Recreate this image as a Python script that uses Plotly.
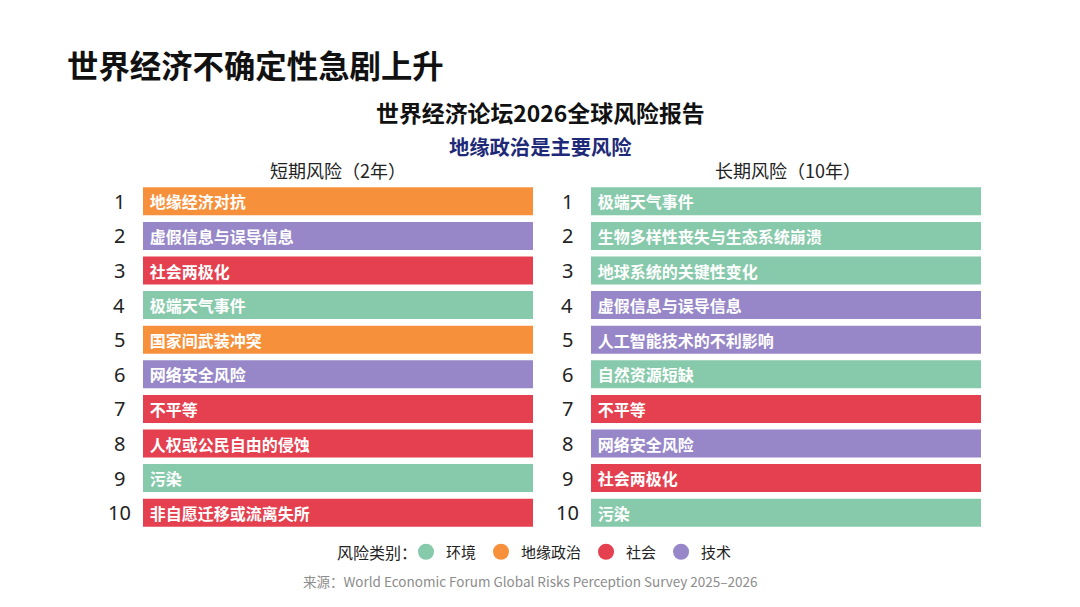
import plotly.graph_objects as go
import plotly.subplots

# ranks and risks
ranks = [1, 2, 3, 4, 5, 6, 7, 8, 9, 10]
short_risks = ["地缘经济对抗", "虚假信息与误导信息", "社会两极化", "极端天气事件", "国家间武装冲突",
               "网络安全风险", "不平等", "人权或公民自由的侵蚀", "污染", "非自愿迁移或流离失所"]
short_cats = ["地缘政治", "技术", "社会", "环境", "地缘政治",
              "技术", "社会", "社会", "环境", "社会"]
long_risks = ["极端天气事件", "生物多样性丧失与生态系统崩溃", "地球系统的关键性变化", "虚假信息与误导信息",
              "人工智能技术的不利影响", "自然资源短缺", "不平等", "网络安全风险", "社会两极化", "污染"]
long_cats = ["环境", "环境", "环境", "技术",
             "技术", "环境", "社会", "技术", "社会", "环境"]
categories = ["环境", "地缘政治", "社会", "技术"]
cat_colors = {"环境": "#87C9AB", "地缘政治": "#F7903A", "社会": "#E5404F", "技术": "#9787C8"}

CJK = "Noto Sans CJK SC"

fig = plotly.subplots.make_subplots(rows=1, cols=2)

for col, (risks, cats) in enumerate([(short_risks, short_cats), (long_risks, long_cats)], start=1):
    fig.add_trace(go.Bar(
        x=[1] * len(ranks),
        y=ranks,
        orientation="h",
        marker=dict(color=[cat_colors[c] for c in cats], line=dict(width=0)),
        text=risks,
        texttemplate="\u00a0%{text}",
        textposition="inside",
        insidetextanchor="start",
        constraintext="none",
        textfont=dict(family=CJK, size=16, color="white", weight="bold"),
        hoverinfo="skip",
        showlegend=False),
        row=1, col=col)
    # rank numbers
    sfx = "" if col == 1 else str(col)
    for r in ranks:
        fig.add_annotation(
            x=0, y=r, xref="x%s domain" % sfx, yref="y%s" % sfx,
            text=str(r), showarrow=False, xanchor="center", xshift=-24,
            font=dict(family="Noto Sans, " + CJK, size=20, color="#222222"))

# legend entries
for c in categories:
    fig.add_trace(go.Scatter(
        x=[None], y=[None], mode="markers", name=c,
        marker=dict(color=cat_colors[c], size=19)),
        row=1, col=1)

fig.update_layout(
    width=1080, height=607,
    margin=dict(l=0, r=0, t=0, b=0),
    paper_bgcolor="white", plot_bgcolor="white",
    bargap=0.19,
    font=dict(family=CJK),
    showlegend=True,
    legend=dict(
        orientation="h", x=406 / 1080, xanchor="left", y=1 - 552 / 607, yanchor="middle",
        font=dict(size=15, color="#222222"),
        itemclick=False, itemdoubleclick=False),
    xaxis=dict(domain=[143 / 1080, 533 / 1080]),
    xaxis2=dict(domain=[591 / 1080, 981 / 1080]),
)
fig.update_xaxes(range=[0, 1], visible=False, fixedrange=True)
fig.update_yaxes(range=[10.5, 0.5], domain=[1 - 530 / 607, 1 - 184 / 607],
                 showticklabels=False, showgrid=False, zeroline=False, fixedrange=True)

# titles
fig.add_annotation(x=65 / 1080, y=1 - 65 / 607, xref="paper", yref="paper", xanchor="left", yanchor="middle",
                   text="<b>世界经济不确定性急剧上升</b>", showarrow=False,
                   font=dict(family=CJK, size=31.4, color="#111111"))
fig.add_annotation(x=0.5, y=1 - 112 / 607, xref="paper", yref="paper", xanchor="center", yanchor="middle",
                   text="<b>世界经济论坛2026全球风险报告</b>", showarrow=False,
                   font=dict(family=CJK, size=22.9, color="#111111"))
fig.add_annotation(x=0.5, y=1 - 146 / 607, xref="paper", yref="paper", xanchor="center", yanchor="middle",
                   text="<b>地缘政治是主要风险</b>", showarrow=False,
                   font=dict(family=CJK, size=20.3, color="#1E2A78"))
fig.add_annotation(x=338 / 1080, y=1 - 170 / 607, xref="paper", yref="paper", xanchor="center", yanchor="middle",
                   text="短期风险（2年）", showarrow=False,
                   font=dict(family=CJK, size=18, color="#222222"))
fig.add_annotation(x=788 / 1080, y=1 - 170 / 607, xref="paper", yref="paper", xanchor="center", yanchor="middle",
                   text="长期风险（10年）", showarrow=False,
                   font=dict(family=CJK, size=18, color="#222222"))
fig.add_annotation(x=335 / 1080, y=1 - 552 / 607, xref="paper", yref="paper", xanchor="left", yanchor="middle",
                   text="风险类别：", showarrow=False,
                   font=dict(family=CJK, size=16, color="#222222"))
fig.add_annotation(x=530 / 1080, y=1 - 581 / 607, xref="paper", yref="paper", xanchor="center", yanchor="middle",
                   text="来源：World Economic Forum Global Risks Perception Survey 2025–2026", showarrow=False,
                   font=dict(family=CJK, size=13.5, color="#8C8C8C"))

# page body has a default margin; drop it so the figure sits at the top-left corner
fig.write_html("out.html", config={"displayModeBar": False},
               post_script="document.body.style.margin='0';")
